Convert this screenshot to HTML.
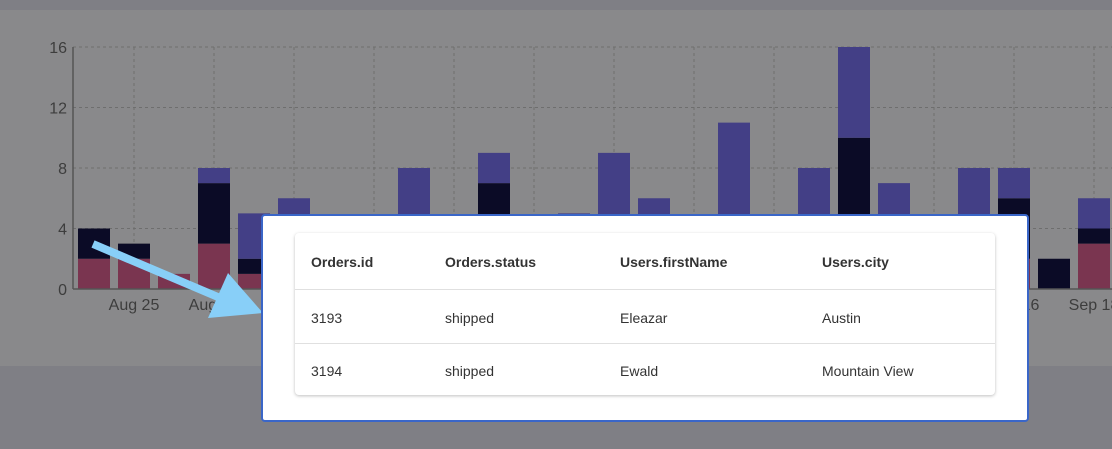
<!DOCTYPE html>
<html><head><meta charset="utf-8">
<style>
html,body{margin:0;padding:0;width:1112px;height:449px;overflow:hidden;background:#89898b;font-family:"Liberation Sans",sans-serif;}
#top{position:absolute;left:0;top:0;width:1112px;height:10px;background:#7f7f85;}
#bottom{position:absolute;left:0;top:366px;width:1112px;height:83px;background:#7f7f85;}
#chart{position:absolute;left:0;top:0;}
#modal{position:absolute;left:261px;top:214px;width:764px;height:204px;background:#fff;border:2px solid #3a66c8;border-radius:4px;}
#card{position:absolute;left:32px;top:17px;width:700px;height:162px;background:#fff;border-radius:4px;box-shadow:0 1px 3px rgba(0,0,0,0.25);}
.row{position:absolute;left:0;width:700px;height:53px;border-bottom:1px solid #e0e0e0;font-size:14px;color:#333;}
.row span{position:absolute;top:20px;}
.hdr{font-weight:bold;color:#333;top:0;height:56px;}
.hdr span{top:21px;}
</style></head><body>
<div id="top"></div>
<div id="bottom"></div>
<svg id="chart" width="1112" height="449"></svg>
<svg width="1112" height="449" style="position:absolute;left:0;top:0">
<line x1="93" y1="244" x2="225" y2="300" stroke="#88cff8" stroke-width="8"/>
<polygon points="228,273 208,318 263,313" fill="#88cff8"/>
</svg>
<div id="modal">
<div id="card">
<div class="row hdr">
<span style="left:16px">Orders.id</span>
<span style="left:150px">Orders.status</span>
<span style="left:325px">Users.firstName</span>
<span style="left:527px">Users.city</span>
</div>
<div class="row" style="top:57px">
<span style="left:16px">3193</span><span style="left:150px">shipped</span><span style="left:325px">Eleazar</span><span style="left:527px">Austin</span>
</div>
<div class="row" style="top:110px;border-bottom:none">
<span style="left:16px">3194</span><span style="left:150px">shipped</span><span style="left:325px">Ewald</span><span style="left:527px">Mountain View</span>
</div>
</div>
</div>
<script>
const redVals    = [2,2,1,3,1,0,0,0,0,0,0,0,0,0,0,0,0,0,0,0,0,0,0,2,0,3];
const blackVals  = [2,1,0,4,1,0,0,0,0,0,7,0,0,0,0,0,0,0,0,10,0,0,0,4,2,1];
const purpleVals = [0,0,0,1,3,6,0,0,8,0,2,0,5,9,6,0,11,0,8,6,7,0,8,2,0,2];
const yTicks = [0,4,8,12,16];
const tickIdx = [1,3,5,7,9,11,13,15,17,19,21,23,25];
const tickLabels = ["Aug 25","Aug 27","Aug 29","Aug 31","Sep 2","Sep 4","Sep 6","Sep 8","Sep 10","Sep 12","Sep 14","Sep 16","Sep 18"];
const NS="http://www.w3.org/2000/svg";
const svg=document.getElementById('chart');
const y0=289, pxPer=(289-47)/16, axisX=73;
const yS=v=>y0-v*pxPer;
const xS=i=>94+40*i;
function mk(t,a){const e=document.createElementNS(NS,t);for(const k in a)e.setAttribute(k,a[k]);svg.appendChild(e);return e;}
yTicks.forEach(t=>{
  if(t>0){const g=mk('line',{x1:axisX,x2:1112,y1:yS(t),y2:yS(t),stroke:'#6e6e6e','stroke-dasharray':'3,3'});
  
  }
  const tx=mk('text',{x:axisX-6,y:yS(t)+6,'text-anchor':'end','font-size':'16',fill:'#3d3d3d','font-family':'Liberation Sans, sans-serif'});
  tx.textContent=t;
  
  
});
tickIdx.forEach((ix,k)=>{
  const g=mk('line',{x1:xS(ix),x2:xS(ix),y1:47,y2:y0,stroke:'#6e6e6e','stroke-dasharray':'3,3'});
  
  
  const tx=mk('text',{x:xS(ix),y:y0+21,'text-anchor':'middle','font-size':'16',fill:'#3d3d3d','font-family':'Liberation Sans, sans-serif'});
  tx.textContent=tickLabels[k];
  
  
});
redVals.forEach((r,i)=>{
  let base=0;
  [[r,'#7a3550','bar-red'],[blackVals[i],'#0b0b26','bar-black'],[purpleVals[i],'#433f86','bar-purple']].forEach(([v,c,n])=>{
    if(v>0){const b=mk('rect',{x:xS(i)-16,y:yS(base+v),width:32,height:v*pxPer,fill:c});
    
    }
    base+=v;
  });
});
const ax=mk('line',{x1:axisX,x2:axisX,y1:47,y2:y0,stroke:'#555','stroke-width':1.5});


const bx=mk('line',{x1:axisX,x2:1112,y1:y0,y2:y0,stroke:'#555','stroke-width':1.5});


</script>
</body></html>
